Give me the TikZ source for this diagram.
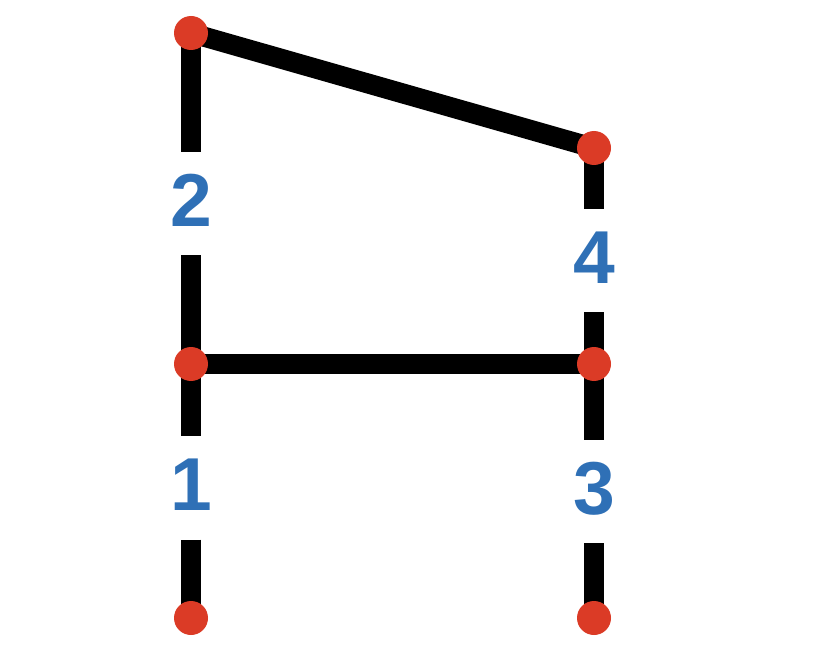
\documentclass[tikz,border=0pt]{standalone}
\usepackage{fontspec}
\setmainfont{Liberation Sans}
\usetikzlibrary{backgrounds}
\definecolor{jointRed}{HTML}{DB3B26}
\definecolor{labelBlue}{HTML}{2F70B6}

\begin{document}
\begin{tikzpicture}[x=1pt,y=-1pt]
\tikzset{
  joint/.style={
    circle,
                   fill=jointRed,
                   inner sep=0pt,
                   minimum size=34pt
    },
  barLabel/.style={
    inner sep=0pt,
                   minimum height=103pt,
                   text depth=6pt,
                   text=labelBlue,
                   font=\fontsize{75}{75}\selectfont\bfseries
    },
  bar/.style={line width=20pt, black}
}
    \useasboundingbox (0,0) rectangle (828,650);

    \node (c)[joint] at (191,33) {};
    \node (b)[joint] at (191,364) {};
    \node (a)[joint] at (191,618) {};
    \node (f)[joint] at (594,148) {};
    \node (e)[joint] at (594,364) {};
    \node (d)[joint] at (594,618) {};

    \node (l2)[barLabel] at (191,203.5) {2};
    \node (l1)[barLabel] at (191,488) {1};
    \node (l4)[barLabel] at (594,260.5) {4};
    \node (l3)[barLabel] at (594,491.5) {3};

    \begin{scope}[on background layer]
    \draw[bar] (c.center) -- (f.center);
    \draw[bar] (b.center) -- (e.center);
    \draw[bar] (c.center) -- (l2);
    \draw[bar] (l2) -- (b.center);
    \draw[bar] (b.center) -- (l1);
    \draw[bar] (l1) -- (a.center);
    \draw[bar] (f.center) -- (l4);
    \draw[bar] (l4) -- (e.center);
    \draw[bar] (e.center) -- (l3);
    \draw[bar] (l3) -- (d.center);
    \end{scope}

\end{tikzpicture}
\end{document}
